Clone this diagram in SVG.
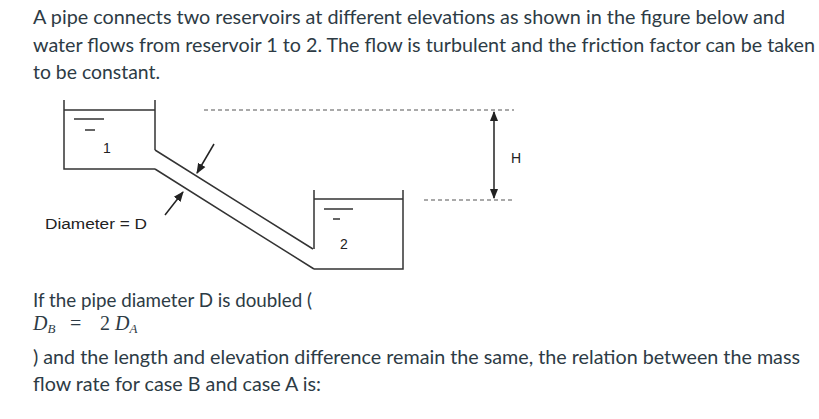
<svg xmlns="http://www.w3.org/2000/svg" width="819" height="419" viewBox="0 0 819 419">
<defs>
<style>
.t{font-family:Lato,"Open Sans",sans-serif;font-size:19px;fill:#2d3b45}
.f{font-family:"Liberation Sans",Arial,sans-serif;font-size:14px;fill:#222}
.l{stroke:#333;stroke-width:1.5;fill:none}
.d{stroke:#555;stroke-width:1.2;stroke-dasharray:4,3;fill:none}
.m{font-family:"Liberation Serif",serif;font-size:20px;fill:#2d3b45}
</style>
<marker id="a" viewBox="0 0 10 10" refX="9" refY="5" markerWidth="7" markerHeight="7" orient="auto-start-reverse"><path d="M0,1 L10,5 L0,9z" fill="#222"/></marker>
</defs>
<g id="text">
<text class="t" x="33" y="24" textLength="752" lengthAdjust="spacingAndGlyphs">A pipe connects two reservoirs at different elevations as shown in the figure below and</text>
<text class="t" x="33" y="52" textLength="782" lengthAdjust="spacingAndGlyphs">water flows from reservoir 1 to 2. The flow is turbulent and the friction factor can be taken</text>
<text class="t" x="33" y="79" textLength="127" lengthAdjust="spacingAndGlyphs">to be constant.</text>
<text class="t" x="33" y="307" textLength="279" lengthAdjust="spacingAndGlyphs">If the pipe diameter D is doubled (</text>
<text class="m" x="33" y="330"><tspan font-style="italic">D</tspan><tspan font-size="13" font-style="italic" dy="3">B</tspan><tspan dy="-3" x="70">=</tspan><tspan x="100">2 </tspan><tspan font-style="italic">D</tspan><tspan font-size="13" font-style="italic" dy="3">A</tspan></text>
<text class="t" x="33" y="364" textLength="767" lengthAdjust="spacingAndGlyphs">) and the length and elevation difference remain the same, the relation between the mass</text>
<text class="t" x="33" y="391" textLength="288" lengthAdjust="spacingAndGlyphs">flow rate for case B and case A is:</text>
</g>
<g id="reservoir1">
<path class="l" d="M64,100 V169 H155 M155,100 V150 M64,110 H155 M74,119 H104 M85,130 H95"/>
<text class="f" x="103" y="153">1</text>
</g>
<g id="pipe">
<path class="l" d="M155,150 L313,249 M155,169 L314,269"/>
<text class="f" x="45" y="229" textLength="102" lengthAdjust="spacingAndGlyphs">Diameter = D</text>
</g>
<g id="reservoir2">
<path class="l" d="M314,249 V190 M314,269 H403 V190 M314,199 H403 M324,209 H353 M333,219 H340"/>
<text class="f" x="340" y="249">2</text>
</g>
<g id="connectors">
<path d="M214,144 L197,173" stroke="#222" stroke-width="1.5" marker-end="url(#a)"/>
<path d="M165,215 L183,192" stroke="#222" stroke-width="1.5" marker-end="url(#a)"/>
<path class="d" d="M204,110 H514 M424,200 H514"/>
<path d="M494,112 V198" stroke="#222" stroke-width="1.5" marker-start="url(#a)" marker-end="url(#a)"/>
</g>
<g id="H"><text class="f" x="511" y="163">H</text></g>
</svg>
